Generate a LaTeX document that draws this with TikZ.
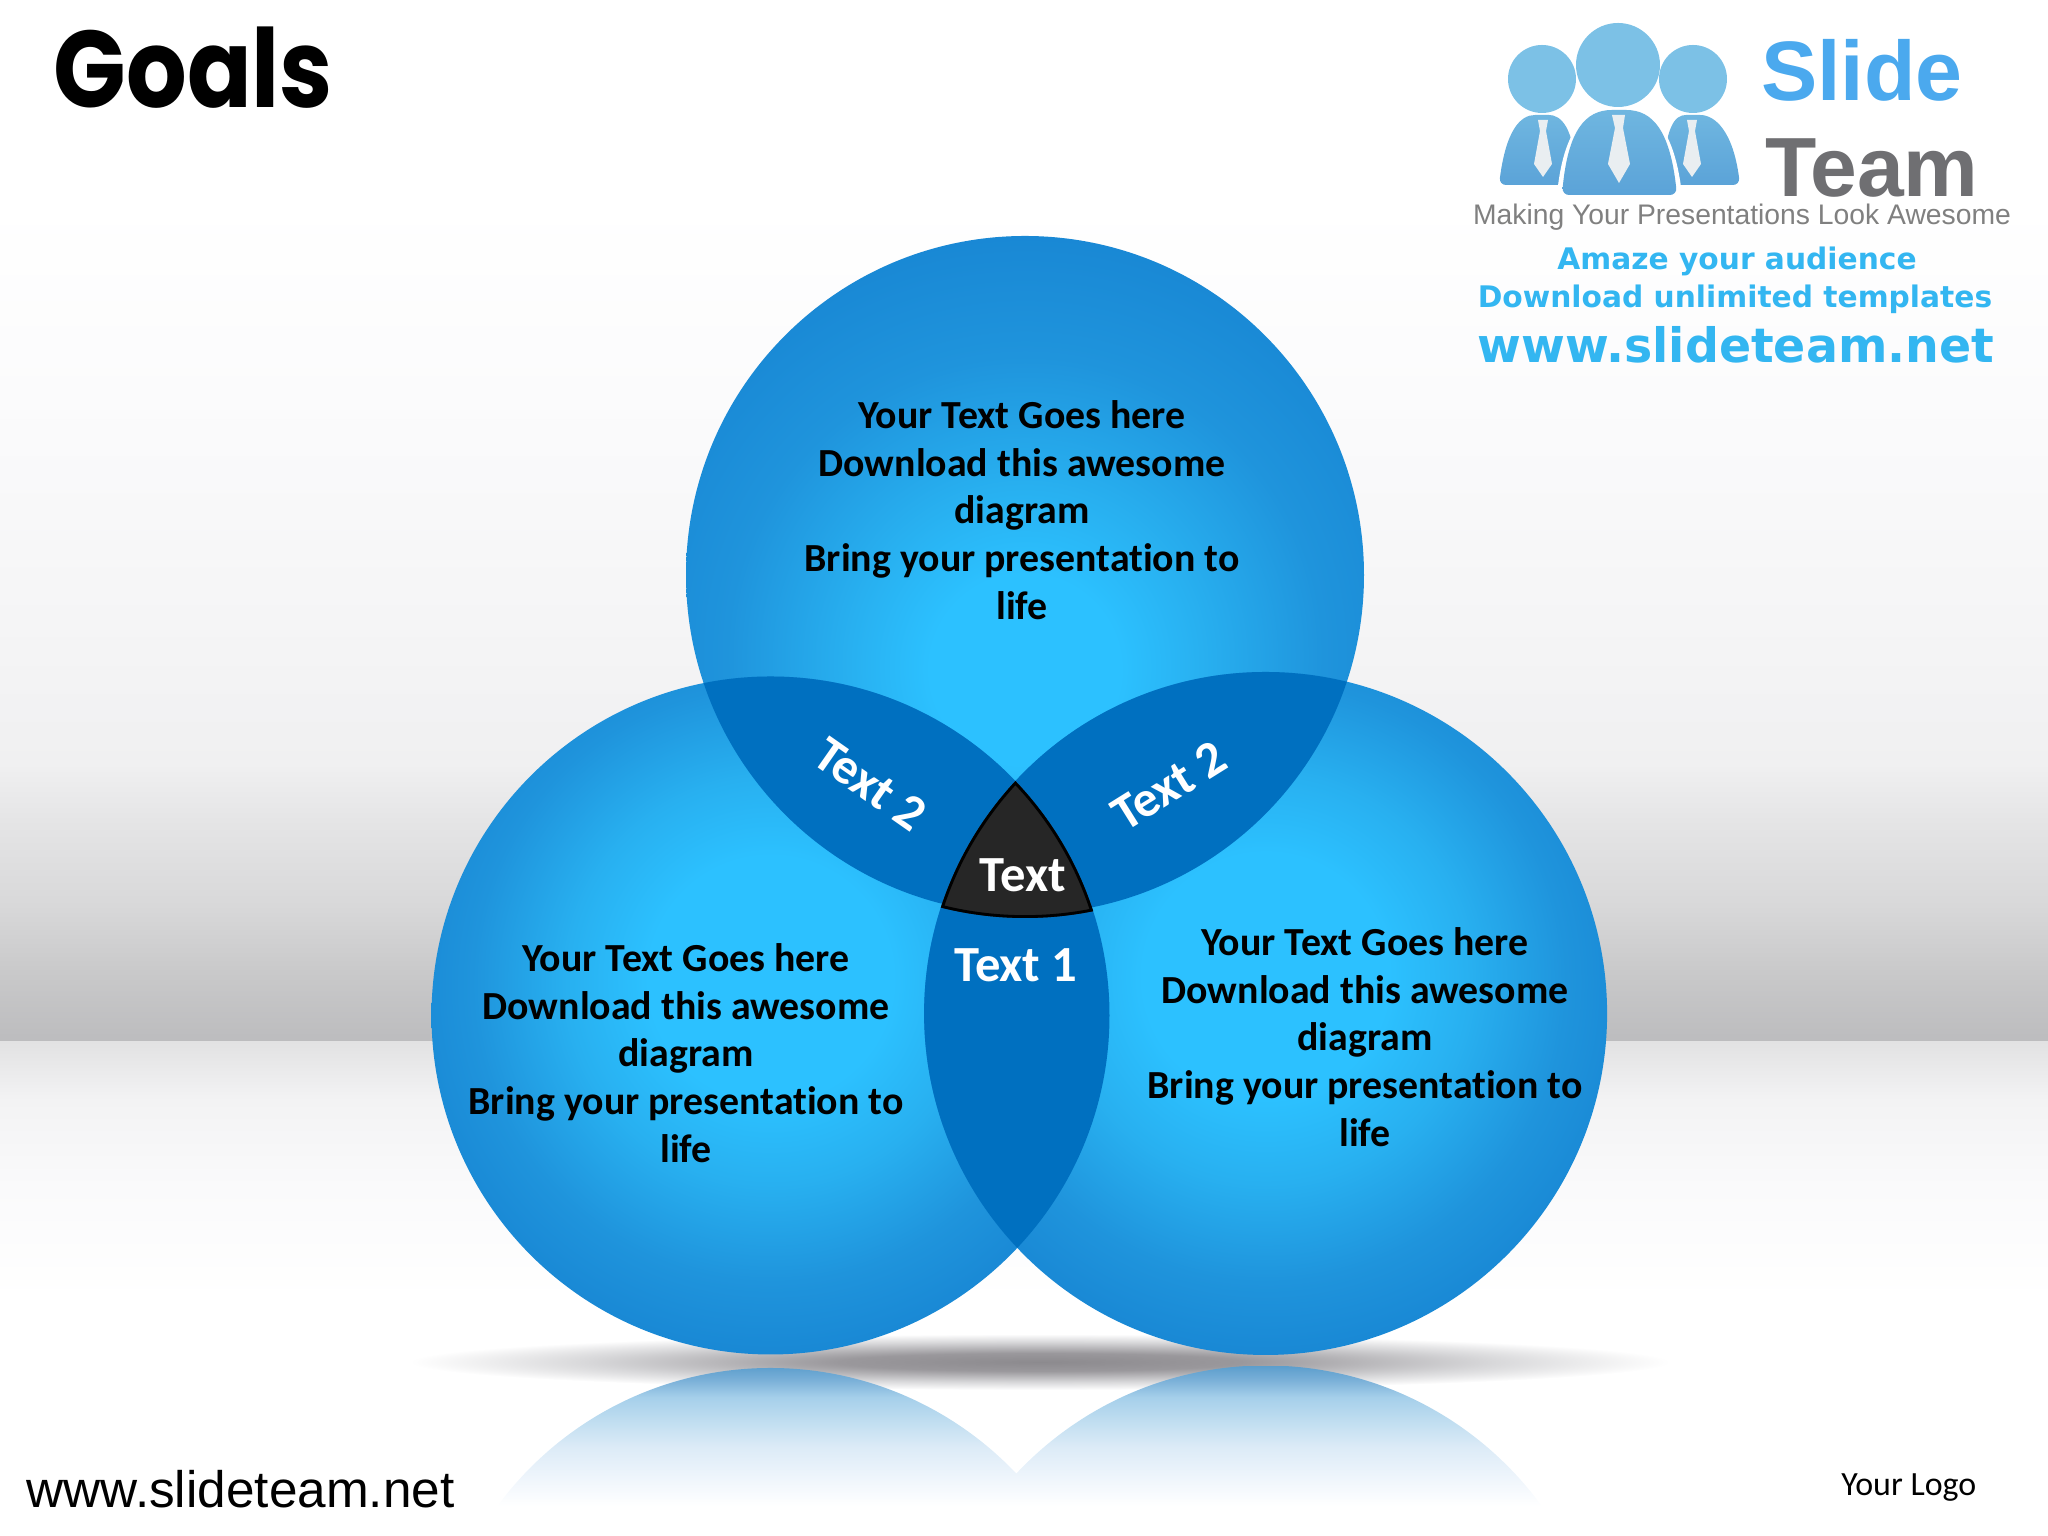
\documentclass[tikz,border=0pt]{standalone}
\usepackage{fontspec}
\setmainfont[Ligatures=NoCommon]{Carlito}
\newfontfamily\titlefont[FakeStretch=0.875]{Poppins}
\newfontfamily\webfont{Liberation Sans}
\newfontfamily\badgefont{DejaVu Sans}
\usepackage{xcolor}
\usetikzlibrary{positioning}
\definecolor{goalsdark}{HTML}{0070C0}
\definecolor{goalsbright}{HTML}{2CC1FF}
\definecolor{goalsmid}{HTML}{28B0F0}
\definecolor{goalssoft}{HTML}{1F94DC}
\definecolor{goalsedge}{HTML}{1784D2}
\definecolor{goalscore}{HTML}{262626}
\definecolor{logoblue}{HTML}{6FB6E0}
\definecolor{logoblow}{HTML}{5BA3D8}
\definecolor{logohead}{HTML}{7CC1E6}
\definecolor{logotie}{HTML}{E9EEF1}
\definecolor{logoslide}{HTML}{4BA9EE}
\definecolor{logoteam}{HTML}{6F6F72}
\definecolor{logocyan}{HTML}{33B6F1}
\definecolor{wallg}{HTML}{BCBCBE}
\definecolor{wallf}{HTML}{C8C8C9}
\definecolor{walle}{HTML}{D8D8D9}
\definecolor{walld}{HTML}{E5E5E6}
\definecolor{wallc}{HTML}{F0F0F1}
\definecolor{wallb}{HTML}{F5F5F6}
\definecolor{walla}{HTML}{FBFBFC}
\definecolor{floorc}{HTML}{E2E2E3}
\definecolor{floorb}{HTML}{F3F3F4}
\definecolor{floora}{HTML}{FAFAFB}
\definecolor{shadowgray}{HTML}{8C8A8E}
\definecolor{shadowmid}{HTML}{9A989C}
\definecolor{shadowlow}{HTML}{D8D8DA}
\definecolor{mirrorf}{HTML}{5E9FCD}
\definecolor{mirrore}{HTML}{7AB0D8}
\definecolor{mirrord}{HTML}{A5CFEA}
\definecolor{mirrorc}{HTML}{BFDDF0}
\definecolor{mirrorb}{HTML}{DCEBF7}
\definecolor{mirrora}{HTML}{F0F6FC}
\pgfdeclareradialshading{ballup}{\pgfpoint{0bp}{3bp}}{color(0bp)=(goalsbright); color(9bp)=(goalsbright); color(15bp)=(goalsmid); color(22bp)=(goalssoft); color(29bp)=(goalsedge); color(100bp)=(goalsedge)}
\pgfdeclareradialshading{balldown}{\pgfpoint{0bp}{-7.5bp}}{color(0bp)=(goalsbright); color(7bp)=(goalsbright); color(13bp)=(goalsmid); color(22bp)=(goalssoft); color(33bp)=(goalsedge); color(100bp)=(goalsedge)}
\pgfdeclareradialshading{shadowfade}{\pgfpoint{0bp}{0bp}}{color(0bp)=(shadowgray); color(8bp)=(shadowmid); color(18bp)=(shadowlow); color(25bp)=(white); color(100bp)=(white)}
\pgfdeclareverticalshading{wallfade}{100bp}{color(0bp)=(wallg); color(25bp)=(wallg); color(28.9bp)=(wallf); color(33.1bp)=(walle); color(38.2bp)=(walld); color(41.5bp)=(wallc); color(49.9bp)=(wallb); color(63.1bp)=(walla); color(75bp)=(white); color(100bp)=(white)}
\pgfdeclareverticalshading{floorfade}{100bp}{color(0bp)=(white); color(25bp)=(white); color(46.9bp)=(floora); color(63.8bp)=(floorb); color(75bp)=(floorc); color(100bp)=(floorc)}
\pgfdeclareverticalshading{mirrorfade}{100bp}{color(0bp)=(white); color(25bp)=(white); color(34.4bp)=(mirrora); color(46.2bp)=(mirrorb); color(55.9bp)=(mirrorc); color(64.2bp)=(mirrord); color(70.3bp)=(mirrore); color(75bp)=(mirrorf); color(100bp)=(mirrorf)}

\begin{document}
\begin{tikzpicture}[
    ball/.style={
        font=\fontsize{11.33}{13.55}\selectfont\bfseries,
        align=center,
        text=black
    },
    tag/.style={
        font=\fontsize{14.4}{18}\selectfont\bfseries,
        text=white
    },
    badge/.style={
        font=\badgefont\bfseries\fontsize{8.45}{10}\selectfont,
        text=logocyan,
        inner sep=0pt
    },
    tie/.style={
        fill=logotie
    },
    suit/.style={
        top color=logoblue,
        bottom color=logoblow,
        rounded corners=2pt
    }
]

\useasboundingbox (0,0) rectangle (20.48,15.36);

% Background
\shade[shading=wallfade] (0,4.94) rectangle (20.48,13.36);
\shade[shading=floorfade] (0,2.36) rectangle (20.48,4.94);

% Shadow and reflection
\shade[shading=shadowfade] (10.4,1.74) ellipse (6.3 and 0.28);
\begin{scope}
    \clip (7.705,-1.71) circle (3.39) (12.656,-1.71) circle (3.415);
    \shade[shading=mirrorfade] (4,0.3) rectangle (16,1.69);
\end{scope}

% Circles
\coordinate (topball) at (10.25,9.61);
\coordinate (leftball) at (7.705,5.205);
\coordinate (rightball) at (12.656,5.225);
\shade[shading=balldown] (topball) circle (3.39);
\shade[shading=ballup] (leftball) circle (3.39);
\shade[shading=ballup] (rightball) circle (3.415);

% Overlaps
\begin{scope}
    \clip (topball) circle (3.39);
    \fill[goalsdark] (leftball) circle (3.39);
    \fill[goalsdark] (rightball) circle (3.415);
\end{scope}
\begin{scope}
    \clip (leftball) circle (3.39);
    \fill[goalsdark] (rightball) circle (3.415);
\end{scope}
\begin{scope}
    \clip (topball) circle (3.43);
    \clip (leftball) circle (3.39);
    \clip (rightball) circle (3.415);
    \fill[goalscore] (4,2) rectangle (16,13);
    \draw[black, line width=1.6pt] (topball) circle (3.43) (leftball) circle (3.39) (rightball) circle (3.415);
\end{scope}

% Circle texts
\node[ball] (toptext) at (10.22,10.26) {Your Text Goes here\\Download this awesome\\diagram\\Bring your presentation to\\life};
\node[ball] (lefttext) at (6.86,4.83) {Your Text Goes here\\Download this awesome\\diagram\\Bring your presentation to\\life};
\node[ball] (righttext) at (13.65,4.99) {Your Text Goes here\\Download this awesome\\diagram\\Bring your presentation to\\life};

% Overlap texts
\node[tag, rotate=-35] (leftlens) at (8.70,7.52) {Text 2};
\node[tag, rotate=32] (rightlens) at (11.69,7.50) {Text 2};
\node[tag] (corelabel) at (10.23,6.61) {Text};
\node[tag] (bottomlens) at (10.16,5.71) {Text 1};

% Title and footer
\node[font=\titlefont\bfseries\fontsize{31}{36}\selectfont, anchor=west, inner sep=0pt] (title) at (0.53,14.68) {Goals};
\node[font=\webfont\fontsize{14.6}{18}\selectfont, anchor=west, inner sep=0pt] (website) at (0.26,0.47) {www.slideteam.net};
\node[font=\fontsize{9.65}{12}\selectfont, anchor=east, inner sep=0pt] (yourlogo) at (19.77,0.48) {Your Logo};

% Logo people
\fill[logohead] (15.42,14.57) circle (0.34);
\fill[logohead] (16.93,14.57) circle (0.34);
\shade[suit] (14.99,13.51) .. controls (15.06,14.05) and (15.2,14.21) .. (15.42,14.21) .. controls (15.6,14.21) and (15.75,14.1) .. (15.76,13.51) -- cycle;
\shade[suit] (16.63,13.51) .. controls (16.65,14.1) and (16.75,14.21) .. (16.93,14.21) .. controls (17.15,14.21) and (17.33,14.05) .. (17.40,13.51) -- cycle;
\fill[tie] (15.38,14.16) -- (15.48,14.16) -- (15.46,14.05) -- (15.52,13.72) -- (15.43,13.59) -- (15.34,13.72) -- (15.40,14.05) -- cycle;
\fill[tie] (16.87,14.16) -- (16.97,14.16) -- (16.95,14.05) -- (17.01,13.72) -- (16.92,13.59) -- (16.83,13.72) -- (16.89,14.05) -- cycle;
\fill[white] (15.57,13.41) .. controls (15.63,14.05) and (15.85,14.31) .. (16.19,14.31) .. controls (16.53,14.31) and (16.75,14.05) .. (16.82,13.41) -- cycle;
\shade[suit] (15.62,13.41) .. controls (15.68,14.05) and (15.85,14.26) .. (16.19,14.26) .. controls (16.53,14.26) and (16.70,14.05) .. (16.77,13.41) -- cycle;
\fill[logohead] (16.18,14.71) circle (0.42);
\fill[tie] (16.12,14.21) -- (16.25,14.21) -- (16.23,14.08) -- (16.30,13.72) -- (16.19,13.53) -- (16.08,13.72) -- (16.15,14.08) -- cycle;

% Logo text
\node[font=\webfont\bfseries\fontsize{24}{28}\selectfont, text=logoslide, inner sep=0pt] (logoslidetext) at (18.62,14.66) {Slide};
\node[font=\webfont\bfseries\fontsize{23.9}{28}\selectfont, text=logoteam, inner sep=0pt] (logoteamtext) at (18.72,13.68) {Team};
\node[font=\webfont\fontsize{8.05}{10}\selectfont, text=black!50, inner sep=0pt] (logomotto) at (17.42,13.19) {Making Your Presentations Look Awesome};
\node[badge] (logoamaze) at (17.37,12.75) {Amaze your audience};
\node[badge] (logodownload) at (17.35,12.37) {Download unlimited templates};
\node[badge, font=\badgefont\bfseries\fontsize{13.5}{14}\selectfont] (logosite) at (17.36,11.91) {www.slideteam.net};

\end{tikzpicture}
\end{document}
